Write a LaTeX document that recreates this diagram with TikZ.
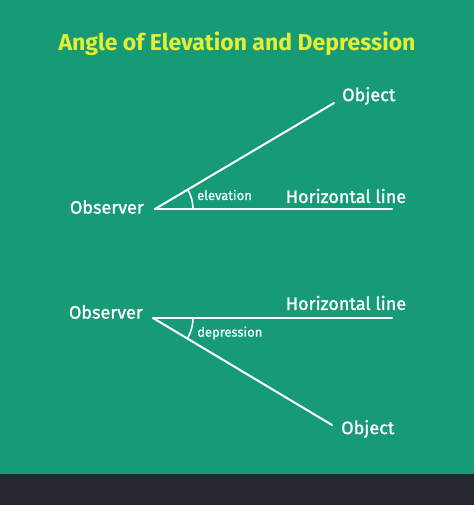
\documentclass[tikz,border=0pt]{standalone}
\usepackage{fontspec}
\setmainfont{Fira Sans}
\newfontfamily\labelfont{Fira Sans}[FakeBold=1.2]
\newfontfamily\smallfont{Fira Sans}[FakeBold=0.6]
\usetikzlibrary{positioning, calc}
\definecolor{boardcolor}{RGB}{22, 155, 118}
\definecolor{titlecolor}{RGB}{228, 238, 52}
\definecolor{footcolor}{RGB}{38, 40, 47}
\tikzset{
    % Lines
    sightline/.style={draw=white, line width=2pt, line cap=round},
    anglearc/.style={draw=white, line width=1.6pt},
    % Labels
    biglabel/.style={text=white, font=\labelfont\fontsize{18}{21}\selectfont, inner sep=0pt},
    anglelabel/.style={text=white, font=\smallfont\fontsize{13}{15}\selectfont, inner sep=0pt},
    titlelabel/.style={text=titlecolor, font=\fontsize{23}{26}\selectfont\bfseries, inner sep=0pt},
}
\begin{document}
\begin{tikzpicture}[x=1pt, y=1pt]

% Background
\fill[boardcolor] (0,0) rectangle (474,505);
\fill[footcolor] (0,0) rectangle (474,31);
\useasboundingbox (0,0) rectangle (474,505);

\node (title) [titlelabel] at (237,461) {Angle of Elevation and Depression};

% Elevation
\coordinate (vtxA) at (155,296);
\coordinate (endA) at (392,296);
\coordinate (topA) at (334,402);

\draw[sightline] (vtxA) -- (endA);
\draw[sightline] (vtxA) -- (topA);
\draw[anglearc] ($(vtxA)+(38,0)$) arc[start angle=0, end angle=30.6, radius=38];

\node (obsA) [biglabel, left=11pt of vtxA, yshift=2pt] {Observer};
\node (objA) [biglabel, anchor=west] at ($(topA)+(8,7)$) {Object};
\node (horA) [biglabel] at (346,309) {Horizontal line};
\node (elev) [anglelabel, anchor=west] at (197,310) {elevation};

% Depression
\coordinate (vtxB) at (153,187);
\coordinate (endB) at (392,187);
\coordinate (botB) at (332,80);

\draw[sightline] (vtxB) -- (endB);
\draw[sightline] (vtxB) -- (botB);
\draw[anglearc] ($(vtxB)+(40,0)$) arc[start angle=0, end angle=-30.9, radius=40];

\node (obsB) [biglabel, left=10pt of vtxB, yshift=6pt] {Observer};
\node (objB) [biglabel, anchor=west] at ($(botB)+(9,-4)$) {Object};
\node (horB) [biglabel] at (346,202) {Horizontal line};
\node (depr) [anglelabel, anchor=west] at (197,172) {depression};

\end{tikzpicture}
\end{document}
